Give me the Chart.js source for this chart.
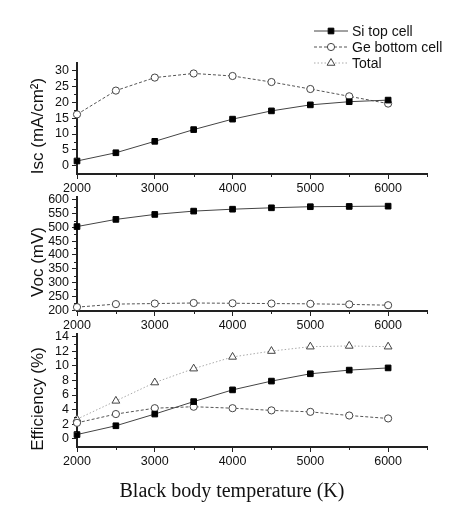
<!DOCTYPE html>
<html>
<head>
<meta charset="utf-8">
<script src="https://cdn.jsdelivr.net/npm/chart.js@4.4.1/dist/chart.umd.min.js"></script>
<style>
body { margin: 0; background: #fff; width: 474px; height: 513px; position: relative; overflow: hidden; font-family: Arial, "Liberation Sans", sans-serif; }
canvas { position: absolute; left: 0; }
.ytitle { position: absolute; font-size: 17px; color: #111; white-space: nowrap; transform: translate(-50%, -50%) rotate(-90deg); }
#xtitle { position: absolute; left: 0; width: 464px; top: 479px; text-align: center; font-family: "Liberation Serif", "Times New Roman", serif; font-size: 20px; color: #111; }
</style>
</head>
<body>
<canvas id="c1" width="474" height="196" style="top:0"></canvas>
<canvas id="c2" width="474" height="147" style="top:186px"></canvas>
<canvas id="c3" width="474" height="146" style="top:323px"></canvas>
<div class="ytitle" style="left:38px;top:126px">Isc (mA/cm²)</div>
<div class="ytitle" style="left:38px;top:262px">Voc (mV)</div>
<div class="ytitle" style="left:38px;top:399px">Efficiency (%)</div>
<div id="xtitle">Black body temperature (K)</div>
<script>
// datos
const temps = [2000, 2500, 3000, 3500, 4000, 4500, 5000, 5500, 6000];
const iscSi = [1.5, 4.1, 7.7, 11.4, 14.7, 17.3, 19.2, 20.2, 20.7];
const iscGe = [16.2, 23.7, 27.8, 29.1, 28.3, 26.4, 24.2, 21.9, 19.6];
const vocSi = [503, 529, 547, 559, 566, 571, 575, 576, 577];
const vocGe = [211, 222, 224, 226, 225, 224, 223, 221, 218];
const effSi = [0.6, 1.8, 3.4, 5.1, 6.7, 7.9, 8.9, 9.4, 9.7];
const effGe = [2.2, 3.4, 4.2, 4.4, 4.2, 3.9, 3.7, 3.2, 2.8];
const effTotal = [2.7, 5.2, 7.7, 9.6, 11.2, 12.0, 12.6, 12.7, 12.6];

const seriesNames = ['Si top cell', 'Ge bottom cell', 'Total'];
const xTicks = [2000, 3000, 4000, 5000, 6000];
const iscTicks = [0, 5, 10, 15, 20, 25, 30];
const vocTicks = [200, 250, 300, 350, 400, 450, 500, 550, 600];
const effTicks = [0, 2, 4, 6, 8, 10, 12, 14];

const estilos = [
    { borderColor: '#444', borderWidth: 1, borderDash: [], pointStyle: 'rect', pointRadius: 4,
      pointBackgroundColor: '#000', pointBorderColor: '#000', pointBorderWidth: 1 },
    { borderColor: '#555', borderWidth: 1, borderDash: [3, 2], pointStyle: 'circle', pointRadius: 3.6,
      pointBackgroundColor: '#fff', pointBorderColor: '#444', pointBorderWidth: 1 },
    { borderColor: '#aaa', borderWidth: 1, borderDash: [1.5, 2], pointStyle: 'triangle', pointRadius: 4.5,
      pointBackgroundColor: '#fff', pointBorderColor: '#444', pointBorderWidth: 1 }
];

function serie(i, values) {
    return Object.assign({
        label: seriesNames[i],
        data: temps.map((t, k) => ({ x: t, y: values[k] })),
        clip: false,
        tension: 0
    }, estilos[i]);
}

function mitades(ticks) {
    const step = ticks[1] - ticks[0];
    const out = [];
    ticks.forEach(v => out.push(v + step / 2));
    return out;
}

const minorTicks = {
    id: 'minorTicks',
    afterDraw(chart, args, opts) {
        const ctx = chart.ctx;
        const x = chart.scales.x, y = chart.scales.y;
        ctx.save();
        ctx.strokeStyle = '#222';
        ctx.lineWidth = 1;
        ctx.beginPath();
        opts.x.forEach(v => {
            if (v > x.max) return;
            const px = Math.round(x.getPixelForValue(v)) + 0.5;
            ctx.moveTo(px, x.top); ctx.lineTo(px, x.top + 3);
        });
        opts.y.forEach(v => {
            if (v > y.max) return;
            const py = Math.round(y.getPixelForValue(v)) + 0.5;
            ctx.moveTo(y.right - 3, py); ctx.lineTo(y.right, py);
        });
        ctx.stroke();
        ctx.restore();
    }
};

const leyenda = {
    id: 'leyenda',
    afterDraw(chart) {
        const ctx = chart.ctx;
        ctx.save();
        estilos.forEach((e, i) => {
            const y = 31 + i * 16;
            ctx.strokeStyle = e.borderColor;
            ctx.lineWidth = 1;
            ctx.setLineDash(e.borderDash);
            ctx.beginPath();
            ctx.moveTo(314, y); ctx.lineTo(348, y);
            ctx.stroke();
            ctx.setLineDash([]);
            ctx.fillStyle = e.pointBackgroundColor;
            ctx.strokeStyle = e.pointBorderColor;
            Chart.helpers.drawPoint(ctx, { pointStyle: e.pointStyle, rotation: 0, radius: e.pointRadius, borderWidth: 1 }, 331, y);
            ctx.fillStyle = '#111';
            ctx.font = '14px Arial';
            ctx.textBaseline = 'middle';
            ctx.fillText(seriesNames[i], 352, y + 1);
        });
        ctx.restore();
    }
};

function crearPanel(id, padTop, yMin, yMax, yTicks, datasets, extra) {
    const ctx = document.getElementById(id).getContext('2d');
    return new Chart(ctx, {
        type: 'line',
        data: { datasets: datasets },
        options: {
            responsive: false,
            animation: false,
            layout: { padding: { top: padTop, right: 47, left: 0, bottom: 0 } },
            plugins: {
                legend: { display: false },
                tooltip: { enabled: false },
                minorTicks: { x: mitades(xTicks), y: mitades(yTicks) }
            },
            scales: {
                x: {
                    type: 'linear', min: 2000, max: 6500,
                    afterBuildTicks: s => { s.ticks = xTicks.map(v => ({ value: v })); },
                    afterFit: s => { s.height = 22; },
                    ticks: { font: { size: 12.5, family: 'Arial' }, color: '#111', padding: 2, maxRotation: 0,
                             autoSkip: false, callback: v => String(v) },
                    grid: { drawOnChartArea: false, tickLength: 5, color: '#222' },
                    border: { color: '#222', width: 2 }
                },
                y: {
                    min: yMin, max: yMax,
                    afterBuildTicks: s => { s.ticks = yTicks.map(v => ({ value: v })); },
                    afterFit: s => { s.width = 77; },
                    ticks: { font: { size: 12.5, family: 'Arial' }, color: '#111', padding: 3,
                             autoSkip: false, callback: v => String(v) },
                    grid: { drawOnChartArea: false, tickLength: 5, color: '#222' },
                    border: { color: '#222', width: 2 }
                }
            }
        },
        plugins: [minorTicks].concat(extra || [])
    });
}

crearPanel('c1', 63, -2.6, 32.4, iscTicks, [serie(0, iscSi), serie(1, iscGe)], [leyenda]);
crearPanel('c2', 10, 197, 612, vocTicks, [serie(0, vocSi), serie(1, vocGe)]);
crearPanel('c3', 10, -1.1, 14.4, effTicks, [serie(0, effSi), serie(1, effGe), serie(2, effTotal)]);
</script>
</body>
</html>
